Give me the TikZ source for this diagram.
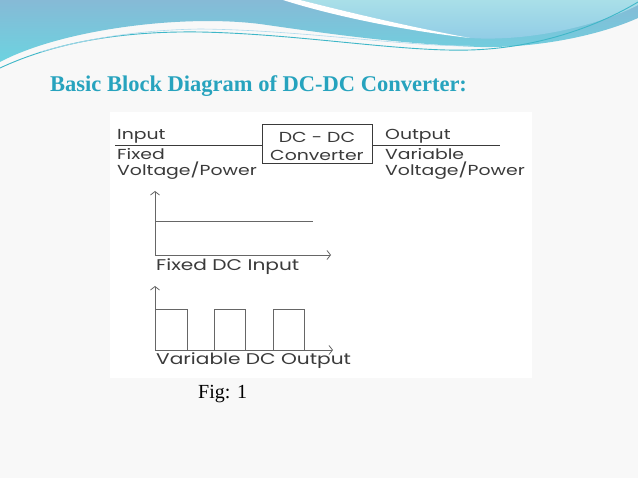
\documentclass[tikz,border=0pt]{standalone}
\usepackage{fontspec}
\usetikzlibrary{arrows.meta}
\newfontfamily\titlefont{Liberation Serif}
\newfontfamily\diagfont[FakeStretch=1.3]{Poppins}
\definecolor{bg}{HTML}{F8F8F8}
\definecolor{titlec}{HTML}{27A3BE}
\definecolor{bluetop}{HTML}{86BAD6}
\definecolor{bluebot}{HTML}{6CD3E0}
\definecolor{cyanlt}{HTML}{A9DFE8}
\definecolor{cyanlo}{HTML}{8FCBE6}
\definecolor{tealln}{HTML}{3FB7C8}
\definecolor{ink}{HTML}{3A3A3A}
\tikzset{
  lbl/.style={inner sep=0pt, anchor=west, text=ink, font=\diagfont\fontsize{14.5}{17}\selectfont},
  plbl/.style={inner sep=0pt, anchor=west, text=ink, font=\diagfont\fontsize{15.5}{18}\selectfont},
  wire/.style={draw=ink, line width=1pt},
  axis/.style={draw=gray!80!black, line width=0.8pt, -{Straight Barb[length=3.5pt,width=9pt]}},
  sig/.style={draw=gray!80!black, line width=0.8pt},
}
\begin{document}
\begin{tikzpicture}[x=1pt,y=-1pt]
\useasboundingbox (0,0) rectangle (638,478);
\fill[bg] (0,0) rectangle (638,478);
% top decoration
\shade[top color=bluetop, bottom color=bluebot]
  (0,0) -- (638,0) -- (638,18) .. controls (600,35) and (540,48) .. (480,47)
  .. controls (400,44) and (330,34) .. (260,24) .. controls (180,14) and (60,30) .. (0,62) -- cycle;
\shade[top color=cyanlt, bottom color=cyanlo]
  (300,0) .. controls (340,10) and (400,25) .. (470,38) .. controls (530,42) and (600,25) .. (638,5) -- (638,0) -- cycle;
\fill[white] (283,0) .. controls (330,15) and (400,30) .. (470,38) .. controls (400,25) and (340,10) .. (300,0) -- cycle;
\draw[tealln, line width=0.9pt] (0,68) .. controls (60,40) and (130,31) .. (200,32) .. controls (300,34) and (400,52) .. (470,50) .. controls (540,48) and (600,25) .. (638,2);
\draw[cyanlo!70!white, line width=0.6pt] (40,52) .. controls (90,38) and (140,30) .. (200,29) .. controls (300,30) and (400,46) .. (470,46);
% title
\node[inner sep=0pt, anchor=base west, text=titlec, font=\titlefont\bfseries\fontsize{22.5}{26}\selectfont] (title) at (50,92) {Basic Block Diagram of DC-DC Converter:};
% figure area
\fill[white] (110,112) rectangle (532,378);
% block diagram
\node[wire, minimum width=110pt, minimum height=39pt, inner sep=0pt] (box) at (317,144.5) {};
\node[lbl, anchor=center, align=center] (boxt) at (317,146) {DC - DC\\[1pt]Converter};
\coordinate (inL) at (115,146);
\coordinate (outR) at (500,146);
\draw[wire] (inL) -- (box.west |- inL);
\draw[wire] (box.east |- outR) -- (outR);
\node[lbl] (in1) at (117,136) {Input};
\node[lbl] (in2) at (117,154) {Fixed};
\node[lbl] (in3) at (117,171) {Voltage/Power};
\node[lbl] (out1) at (385,136) {Output};
\node[lbl] (out2) at (385,154) {Variable};
\node[lbl] (out3) at (385,171) {Voltage/Power};
% plot 1
\coordinate (o1) at (155,255);
\coordinate (y1) at (155,191);
\coordinate (x1) at (331,255);
\draw[axis] (o1) -- (y1);
\draw[axis] (o1) -- (x1);
\coordinate (l1a) at (155,221);
\coordinate (l1b) at (313,221);
\draw[sig] (l1a) -- (l1b);
\node[plbl] (p1) at (156,267) {Fixed DC Input};
% plot 2
\coordinate (o2) at (155,350);
\coordinate (y2) at (155,286);
\coordinate (x2) at (333,350);
\draw[axis] (o2) -- (y2);
\draw[axis] (o2) -- (x2);
\draw[sig] (155,309) -- (187,309) -- (187,350);
\draw[sig] (214,350) -- (214,309) -- (245,309) -- (245,350);
\draw[sig] (273,350) -- (273,309) -- (304,309) -- (304,350);
\node[plbl] (p2) at (156,361) {Variable DC Output};
% caption
\node[inner sep=0pt, anchor=base west, text=black, font=\titlefont\fontsize{20}{24}\selectfont] (fig) at (198,399) {Fig: 1};
\end{tikzpicture}
\end{document}
